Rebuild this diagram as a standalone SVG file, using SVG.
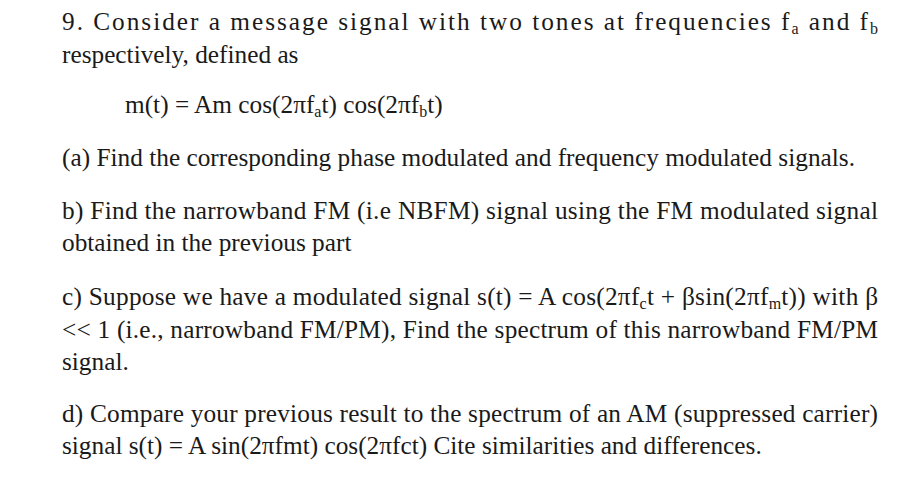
<svg xmlns="http://www.w3.org/2000/svg" width="915" height="477" viewBox="0 0 915 477">
<style>
text{font-family:"Liberation Serif","Times New Roman",serif;font-size:25.3px;fill:#1a1a1a}
.s{font-size:16px}
</style>
<rect width="915" height="477" fill="#fff"/>
<g id="q">
<text x="62" y="30" textLength="816" lengthAdjust="spacing">9. Consider a message signal with two tones at frequencies f<tspan class="s" dy="4">a</tspan><tspan dy="-4"> and f</tspan><tspan class="s" dy="4">b</tspan></text>
<text x="62" y="63">respectively, defined as</text>
<text x="125" y="113">m(t) = Am cos(2πf<tspan class="s" dy="4">a</tspan><tspan dy="-4">t) cos(2πf</tspan><tspan class="s" dy="4">b</tspan><tspan dy="-4">t)</tspan></text>
<text x="62" y="166" textLength="793" lengthAdjust="spacing">(a) Find the corresponding phase modulated and frequency modulated signals.</text>
<text x="62" y="219" textLength="816" lengthAdjust="spacing">b) Find the narrowband FM (i.e NBFM) signal using the FM modulated signal</text>
<text x="62" y="251">obtained in the previous part</text>
<text x="62" y="305" textLength="816" lengthAdjust="spacing">c) Suppose we have a modulated signal s(t) = A cos(2πf<tspan class="s" dy="4">c</tspan><tspan dy="-4">t + βsin(2πf</tspan><tspan class="s" dy="4">m</tspan><tspan dy="-4">t)) with β</tspan></text>
<text x="62" y="338" textLength="816" lengthAdjust="spacing">&lt;&lt; 1 (i.e., narrowband FM/PM), Find the spectrum of this narrowband FM/PM</text>
<text x="62" y="370">signal.</text>
<text x="62" y="422" textLength="816" lengthAdjust="spacing">d) Compare your previous result to the spectrum of an AM (suppressed carrier)</text>
<text x="62" y="454">signal s(t) = A sin(2πfmt) cos(2πfct) Cite similarities and differences.</text>
</g>
</svg>
